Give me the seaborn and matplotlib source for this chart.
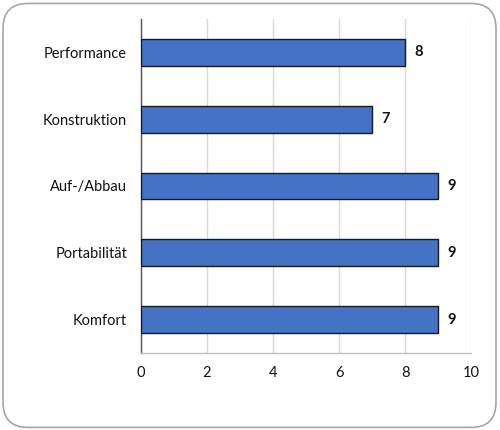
import matplotlib
matplotlib.use("Agg")
import matplotlib.pyplot as plt
import seaborn as sns
import pandas as pd
from matplotlib.patches import FancyBboxPatch

categories = ["Performance", "Konstruktion", "Auf-/Abbau", "Portabilität", "Komfort"]
values = [8, 7, 9, 9, 9]
xticks = [0, 2, 4, 6, 8, 10]

sns.set_theme(style="white")
plt.rcParams['font.family'] = ['Lato', 'DejaVu Sans']

df = pd.DataFrame({"cat": categories, "val": values})

fig = plt.figure(figsize=(5, 4.3), dpi=100)
ax = fig.add_axes([0.282, 0.179, 0.66, 0.777])

sns.barplot(data=df, x="val", y="cat", orient="h", color="#4472C4",
            edgecolor="#1a1a1a", linewidth=1.0, width=0.4, saturation=1, ax=ax, zorder=3)

ax.set_xlim(0, 10)
ax.set_xticks(xticks)
ax.set_xticklabels([str(t) for t in xticks], fontsize=10.5, color="#111111")
ax.tick_params(axis='y', labelsize=10.5, colors="#111111", length=0, pad=10)
ax.tick_params(axis='x', length=0, pad=9)
ax.set_xlabel("")
ax.set_ylabel("")
ax.xaxis.grid(True, color="#d9d9d9", linewidth=1.0, zorder=0)
ax.set_axisbelow(True)
for s in ["top", "right"]:
    ax.spines[s].set_visible(False)
ax.spines["left"].set_color("#555555")
ax.spines["left"].set_linewidth(1.0)
ax.spines["bottom"].set_color("#bfbfbf")
ax.spines["bottom"].set_linewidth(1.0)

for i, v in enumerate(values):
    ax.annotate(str(v), xy=(v, i), xytext=(7, 0), textcoords="offset points",
                va="center", ha="left", fontsize=10.5, fontweight="bold", color="#111111")

border = FancyBboxPatch((0.006, 0.006), 0.986, 0.986, boxstyle="round,pad=0,rounding_size=0.05",
                        transform=fig.transFigure, facecolor="none", edgecolor="#a6a6a6",
                        linewidth=1.2, mutation_aspect=500/430)
fig.patches.append(border)

fig.savefig("out.png", dpi=100)
